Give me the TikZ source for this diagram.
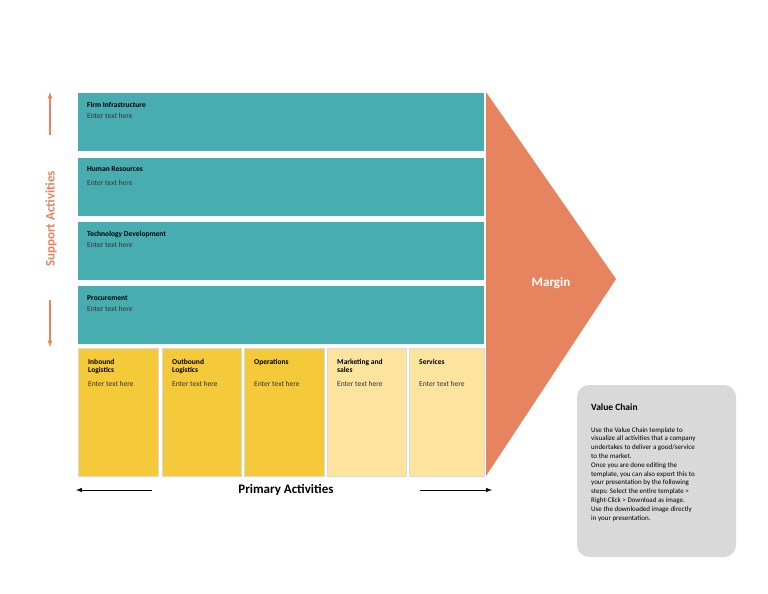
\documentclass[tikz,border=0pt]{standalone}
\usepackage{fontspec}
\setmainfont{Carlito}
\definecolor{teal1}{HTML}{48ADB0}
\definecolor{orng}{HTML}{E6845F}
\definecolor{yel}{HTML}{F4CA3A}
\definecolor{lyel}{HTML}{FCE49E}
\definecolor{gry}{HTML}{D9D9D9}
\tikzset{
 bar/.style={fill=teal1,draw=white,line width=0.6pt},
 ybox/.style={draw=gry,line width=0.8pt},
 ttl/.style={anchor=north west,font=\fontsize{7.5}{8.5}\selectfont\bfseries,align=left,inner sep=0pt},
 sub/.style={anchor=north west,font=\fontsize{7.5}{8.5}\selectfont,text=black!80,inner sep=0pt},
}
\begin{document}
\begin{tikzpicture}[x=1pt,y=-1pt]
\useasboundingbox (0,0) rectangle (768,594);
\fill[white] (0,0) rectangle (768,594);
% support bars
\foreach \t/\y/\ty in {Firm Infrastructure/92/102,Human Resources/157/166,Technology Development/221/231,Procurement/285/295}{
 \path[bar] (77,\y) rectangle (484,\y+59);
 \node[ttl] at (87,\ty) {\t};
}
\node[sub] (s1) at (87,113) {Enter text here};
\node[sub] (s2) at (87,180) {Enter text here};
\node[sub] (s3) at (87,242) {Enter text here};
\node[sub] (s4) at (87,306) {Enter text here};
% primary boxes
\path[ybox,fill=yel] (78,348) rectangle (158,476);
\path[ybox,fill=yel] (162,348) rectangle (241,476);
\path[ybox,fill=yel] (244,348) rectangle (324,476);
\path[ybox,fill=lyel] (327,348) rectangle (406,476);
\path[ybox,fill=lyel] (409,348) rectangle (484,476);
\node[ttl] (p1) at (88,359) {Inbound\\Logistics};
\node[ttl] (p2) at (172,359) {Outbound\\Logistics};
\node[ttl] (p3) at (254,359) {Operations};
\node[ttl] (p4) at (337,359) {Marketing and\\sales};
\node[ttl] (p5) at (419,359) {Services};
\foreach \x in {88,172,254,337,419}{\node[sub] at (\x,381) {Enter text here};}
% margin
\fill[orng] (486,92) -- (616,279) -- (486,476) -- cycle;
\node[text=white,font=\fontsize{13}{15}\selectfont\bfseries] (m) at (551,283) {Margin};
% support label
\node[rotate=90,text=orng,font=\fontsize{13}{15}\selectfont\bfseries] (sa) at (51,219) {Support Activities};
\coordinate (ua) at (50,135); \coordinate (ub) at (50,92);
\coordinate (da) at (50,300); \coordinate (db) at (50,347);
\draw[orng,line width=1.2pt,-latex] (ua) -- (ub);
\draw[orng,line width=1.2pt,-latex] (da) -- (db);
% primary label
\node[font=\fontsize{13}{15}\selectfont\bfseries] (pa) at (286,490) {Primary Activities};
\coordinate (la) at (152,490); \coordinate (lb) at (76,490);
\coordinate (ra) at (420,490); \coordinate (rb) at (492,490);
\draw[line width=1pt,-latex] (la) -- (lb);
\draw[line width=1pt,-latex] (ra) -- (rb);
% info box
\fill[gry,rounded corners=12pt] (577,385) rectangle (736,557);
\node[anchor=north west,inner sep=0pt,font=\fontsize{9.5}{11}\selectfont\bfseries] (vc) at (591,404) {Value Chain};
\node[anchor=north west,inner sep=0pt,align=left,font=\fontsize{7}{8.8}\selectfont] (vt) at (591,427) {Use the Value Chain template to\\visualize all activities that a company\\undertakes to deliver a good/service\\to the market.\\Once you are done editing the\\template, you can also export this to\\your presentation by the following\\steps: Select the entire template >\\Right-Click > Download as image.\\Use the downloaded image directly\\in your presentation.};
\end{tikzpicture}
\end{document}
